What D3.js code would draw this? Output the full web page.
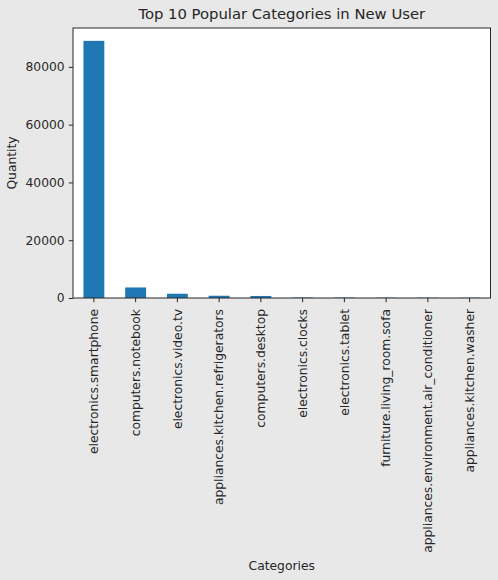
<!DOCTYPE html>
<html>
<head>
	<meta charset="utf-8">
	<title>Top 10 Popular Categories in New User</title>
	<script src="https://d3js.org/d3.v7.min.js"></script>
	<style>
		body { margin: 0; background: #e8e8e8; }
		svg { display: block; font-family: "DejaVu Sans", sans-serif; }
	</style>
</head>
<body>
	<script type="text/javascript">
		// Categories and counts
		var categories = [
			"electronics.smartphone",
			"computers.notebook",
			"electronics.video.tv",
			"appliances.kitchen.refrigerators",
			"computers.desktop",
			"electronics.clocks",
			"electronics.tablet",
			"furniture.living_room.sofa",
			"appliances.environment.air_conditioner",
			"appliances.kitchen.washer"
		];
		var quantities = [89000, 3650, 1480, 780, 700, 160, 140, 110, 100, 90];
		var yTicks = [0, 20000, 40000, 60000, 80000];

		var width = 498;
		var height = 580;
		var margin = { top: 28, right: 7.5, bottom: 282, left: 73 };
		var plotW = width - margin.left - margin.right;
		var plotH = height - margin.top - margin.bottom;

		var svg = d3.select("body")
					.append("svg")
					.attr("width", width)
					.attr("height", height);

		var g = svg.append("g")
				   .attr("transform", "translate(" + margin.left + "," + margin.top + ")");

		// band scale: each bar takes half of its slot, like pandas bar plots
		var xScale = d3.scaleBand()
					   .domain(categories)
					   .range([0, plotW])
					   .paddingInner(0.5)
					   .paddingOuter(0.25);

		// matplotlib pads the top by 5% of the max
		var yScale = d3.scaleLinear()
					   .domain([0, d3.max(quantities) * 1.05])
					   .range([plotH, 0]);

		g.append("rect")
		 .attr("width", plotW)
		 .attr("height", plotH)
		 .attr("fill", "white");

		g.selectAll("rect.bar")
		 .data(quantities)
		 .enter()
		 .append("rect")
		 .attr("class", "bar")
		 .attr("x", function(d, i) { return xScale(categories[i]); })
		 .attr("y", function(d) { return yScale(d); })
		 .attr("width", xScale.bandwidth())
		 .attr("height", function(d) { return plotH - yScale(d); })
		 .attr("fill", "#1f77b4");

		// axes
		var yAxis = g.append("g")
					 .call(d3.axisLeft(yScale).tickValues(yTicks).tickSize(4.2).tickPadding(4.2).tickFormat(d3.format("d")));

		var xAxis = g.append("g")
					 .attr("transform", "translate(0," + plotH + ")")
					 .call(d3.axisBottom(xScale).tickSize(4.2).tickPadding(4.2));

		[xAxis, yAxis].forEach(function(ax) {
			ax.select(".domain").remove();
			ax.selectAll("line").attr("stroke", "#262626").attr("stroke-width", 1);
			ax.selectAll("text")
			  .attr("fill", "#262626")
			  .style("font-size", "12.3px")
			  .style("font-family", "DejaVu Sans");
		});

		// rotate the category labels
		xAxis.selectAll("text")
			 .attr("transform", "rotate(-90)")
			 .attr("x", -11)
			 .attr("y", 0)
			 .attr("dy", "0.35em")
			 .attr("text-anchor", "end");

		// frame
		g.append("rect")
		 .attr("width", plotW)
		 .attr("height", plotH)
		 .attr("fill", "none")
		 .attr("stroke", "#262626")
		 .attr("stroke-width", 1);

		// title and labels
		svg.append("text")
		   .attr("x", margin.left + plotW / 2)
		   .attr("y", 19)
		   .attr("text-anchor", "middle")
		   .attr("fill", "#262626")
		   .style("font-size", "14.8px")
		   .text("Top 10 Popular Categories in New User");

		svg.append("text")
		   .attr("x", margin.left + plotW / 2)
		   .attr("y", 570)
		   .attr("text-anchor", "middle")
		   .attr("fill", "#262626")
		   .style("font-size", "12.3px")
		   .text("Categories");

		svg.append("text")
		   .attr("transform", "translate(16," + (margin.top + plotH / 2) + ") rotate(-90)")
		   .attr("text-anchor", "middle")
		   .attr("fill", "#262626")
		   .style("font-size", "12.3px")
		   .text("Quantity");
	</script>
</body>
</html>
